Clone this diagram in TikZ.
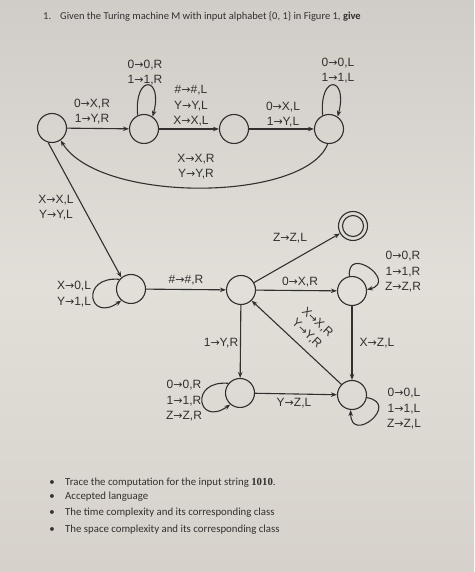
\documentclass[tikz,border=0pt]{standalone}
\usepackage{fontspec}
\setmainfont{Liberation Sans}
\newfontfamily\carl{Carlito}
\newfontfamily\serifb{Liberation Serif}
\newfontfamily\arrfont{DejaVu Sans}
\newcommand\tto{{\arrfont\fontsize{11}{11}\selectfont →}}
\usetikzlibrary{arrows.meta}
\definecolor{ink}{RGB}{50,48,47}
\definecolor{bgtop}{RGB}{208,205,200}
\definecolor{bgmid}{RGB}{226,223,217}
\definecolor{bgbot}{RGB}{214,210,203}
\tikzset{
  state/.style={circle, draw=ink, minimum size=29pt, inner sep=0pt, line width=1.1pt},
  arr/.style={draw=ink, line width=1.1pt, -{Stealth[length=6pt,width=4.5pt]}},
  lbl/.style={font=\fontsize{12}{15.5}\selectfont, text=ink, align=center, inner sep=0pt},
  txt/.style={font=\carl\fontsize{10.8}{12}\selectfont, text=ink, inner sep=0pt, anchor=base west},
}
\begin{document}
\begin{tikzpicture}[x=1pt,y=1pt]
\shade[top color=bgtop, bottom color=bgbot, middle color=bgmid] (0,0) rectangle (474,572);
\useasboundingbox (0,0) rectangle (474,572);

% states
\node[state] (q0) at (52,444) {};
\node[state] (q1) at (144,443) {};
\node[state] (q2) at (234,443) {};
\node[state] (q3) at (329,443) {};
\node[state] (q4) at (131,283) {};
\node[state] (q5) at (241,282) {};
\node[state] (acc) at (353,346) {};
\node[circle, draw=ink, minimum size=21pt, inner sep=0pt, line width=1.1pt] (acci) at (acc) {};
\node[state] (q6) at (352,281) {};
\node[state] (q7) at (240,179) {};
\node[state] (q8) at (352,177) {};

% edges
\draw[arr] (q0) -- (q1);
\draw[arr] (q1.115) .. controls +(95:42) and +(75:42) .. (q1.55);
\draw[arr] (q1) -- (q2);
\draw[arr] (q2) -- (q3);
\draw[arr] (q3.115) .. controls +(95:42) and +(75:42) .. (q3.55);
\draw[arr] (q3.265) .. controls (305,370) and (100,368) .. (q0.-55);
\draw[arr] (q0.-105) -- (q4.130);
\draw[arr] (q4.140) .. controls +(175:40) and +(215:40) .. (q4.230);
\draw[arr] (q4) -- (q5);
\draw[arr] (q5) -- (acc);
\draw[arr] (q5) -- (q6);
\draw[arr] (q6.100) .. controls +(95:32) and +(15:32) .. (q6.5);
\draw[arr] (q5) -- (q7);
\draw[arr] (q8.135) -- (q5.-45);
\draw[arr] (q6) -- (q8);
\draw[arr] (q7.140) .. controls +(175:40) and +(215:40) .. (q7.230);
\draw[arr] (q7) -- (q8);
\draw[arr] (q8.-10) .. controls +(-10:35) and +(-90:35) .. (q8.-95);

% labels
\node[lbl] (l01) at (92,460.5) {0\tto X,R\\1\tto Y,R};
\node[lbl] (l11) at (145,499.5) {0\tto 0,R\\1\tto 1,R};
\node[lbl] (l12) at (191,466) {\#\tto\#,L\\Y\tto Y,L\\X\tto X,L};
\node[lbl] (l23) at (283,457.5) {0\tto X,L\\1\tto Y,L};
\node[lbl] (l33) at (338,501.5) {0\tto 0,L\\1\tto 1,L};
\node[lbl] (l30) at (196,405.5) {X\tto X,R\\Y\tto Y,R};
\node[lbl] (l04) at (56,364.5) {X\tto X,L\\Y\tto Y,L};
\node[lbl] (l44) at (74,278) {X\tto 0,L\\Y\tto 1,L};
\node[lbl] (l45) at (186,292) {\#\tto\#,R};
\node[lbl] (l5a) at (290,334) {Z\tto Z,L};
\node[lbl] (l56) at (300,290) {0\tto X,R};
\node[lbl] (l66) at (403,300) {0\tto 0,R\\1\tto 1,R\\Z\tto Z,R};
\node[lbl] (l57) at (221,229) {1\tto Y,R};
\node[lbl, rotate=-43] (l85) at (312,244) {X\tto X,R\\Y\tto Y,R};
\node[lbl] (l68) at (377,229) {X\tto Z,L};
\node[lbl] (l77) at (184,171) {0\tto 0,R\\1\tto 1,R\\Z\tto Z,R};
\node[lbl] (l78) at (294,169) {Y\tto Z,L};
\node[lbl] (l88) at (404,163) {0\tto 0,L\\1\tto 1,L\\Z\tto Z,L};

% texts
\node[txt, font=\carl\fontsize{10.5}{12}\selectfont] (title) at (43,552) {1.\hspace{9pt}Given the Turing machine M with input alphabet \{0, 1\} in Figure 1, \textbf{give}};
\node[txt, anchor=base] (b1) at (52,86) {•};
\node[txt] (t1) at (65,86) {Trace the computation for the input string {\serifb\bfseries 1010}.};
\node[txt, anchor=base] (b2) at (52,72) {•};
\node[txt] (t2) at (65,72) {Accepted language};
\node[txt, anchor=base] (b3) at (52,56) {•};
\node[txt] (t3) at (65,56) {The time complexity and its corresponding class};
\node[txt, anchor=base] (b4) at (52,39) {•};
\node[txt] (t4) at (65,39) {The space complexity and its corresponding class};
\end{tikzpicture}
\end{document}
